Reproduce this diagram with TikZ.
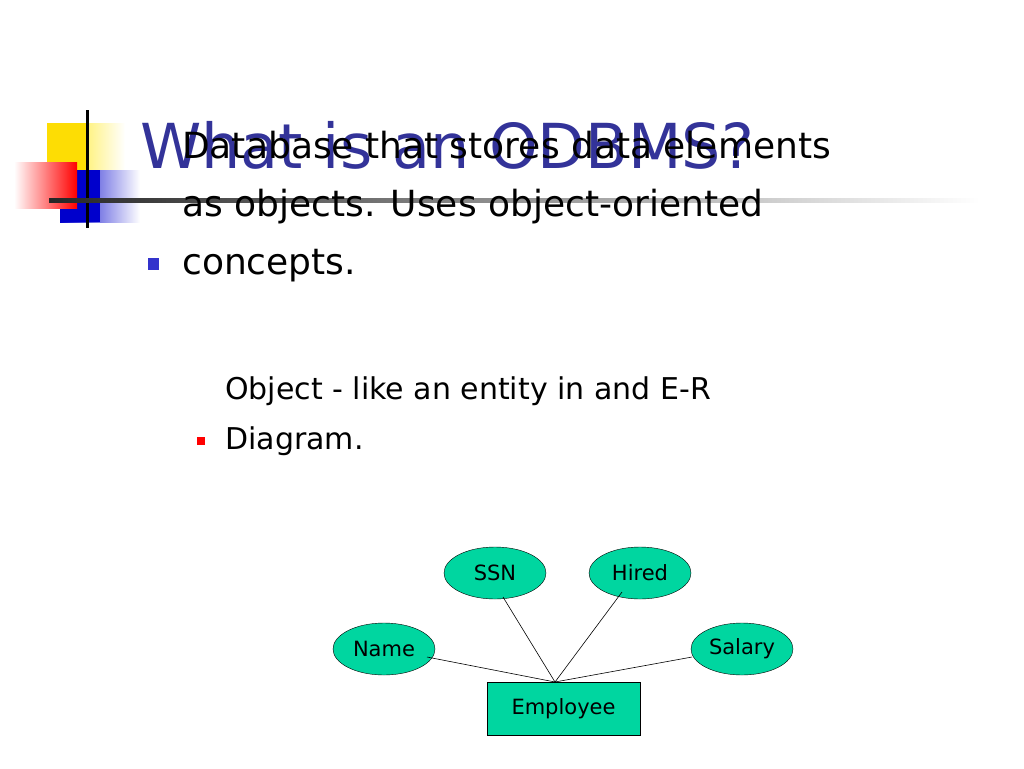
\documentclass[tikz,border=0pt]{standalone}
\usepackage{fontspec}
\setmainfont{DejaVu Sans}
\usetikzlibrary{shapes.geometric}
\definecolor{ttl}{RGB}{51,51,153}
\definecolor{erfill}{RGB}{0,214,160}
\definecolor{bblue}{RGB}{51,51,204}
\tikzset{
 attr/.style={ellipse,draw,fill=erfill,minimum width=102pt,minimum height=52pt,inner sep=0pt,font=\fontsize{21}{24}\selectfont},
 ent/.style={rectangle,draw,fill=erfill,minimum width=153pt,minimum height=53pt,font=\fontsize{21}{24}\selectfont},
 lnk/.style={draw,line width=0.6pt}
}
\begin{document}
\begin{tikzpicture}[x=1pt,y=-1pt]
\useasboundingbox (0,0) rectangle (1024,768);
% logo
\shade[left color=yellow!80!orange,right color=white] (47,123) rectangle (125,172);
\fill[yellow!80!orange] (47,123) rectangle (87,172);
\shade[left color=blue!80!black,right color=white] (60,170) rectangle (140,222);
\fill[blue!80!black] (60,170) rectangle (100,222);
\shade[left color=white,right color=red] (14,162) rectangle (77,208);
\draw[line width=3pt] (87,110) -- (87,228);
\shade[left color=black!85,right color=white] (49,198.5) rectangle (980,202);
% title
\node[anchor=base west,inner sep=0pt,text=ttl,font=\fontsize{62}{70}\selectfont] (title) at (140,168) {What is an ODBMS?};
% bullets
\fill[bblue] (148,258) rectangle (159,270) coordinate (b1);
\node[anchor=base west,inner sep=0pt,align=left,font=\fontsize{36}{58}\selectfont] (t1) at (182,274) {Database that stores data elements\\as objects. Uses object-oriented\\concepts.};
\fill[red] (197,437) rectangle (205,445) coordinate (b2);
\node[anchor=base west,inner sep=0pt,align=left,font=\fontsize{30}{50}\selectfont] (t2) at (225,449) {Object - like an entity in and E-R\\Diagram.};
% ER diagram
\node[attr] (ssn) at (495,573) {SSN};
\node[attr] (hired) at (640,573) {Hired};
\node[attr] (name) at (384,649) {Name};
\node[attr] (salary) at (742,649) {Salary};
\node[ent] (emp) at (563.5,708.5) {Employee};
\coordinate (j) at (555,682);
\draw[lnk] (j) -- (427,657) coordinate (nm);
\draw[lnk] (j) -- (503,597) coordinate (sn);
\draw[lnk] (j) -- (622,592) coordinate (hr);
\draw[lnk] (j) -- (692,657) coordinate (sl);
\end{tikzpicture}
\end{document}
